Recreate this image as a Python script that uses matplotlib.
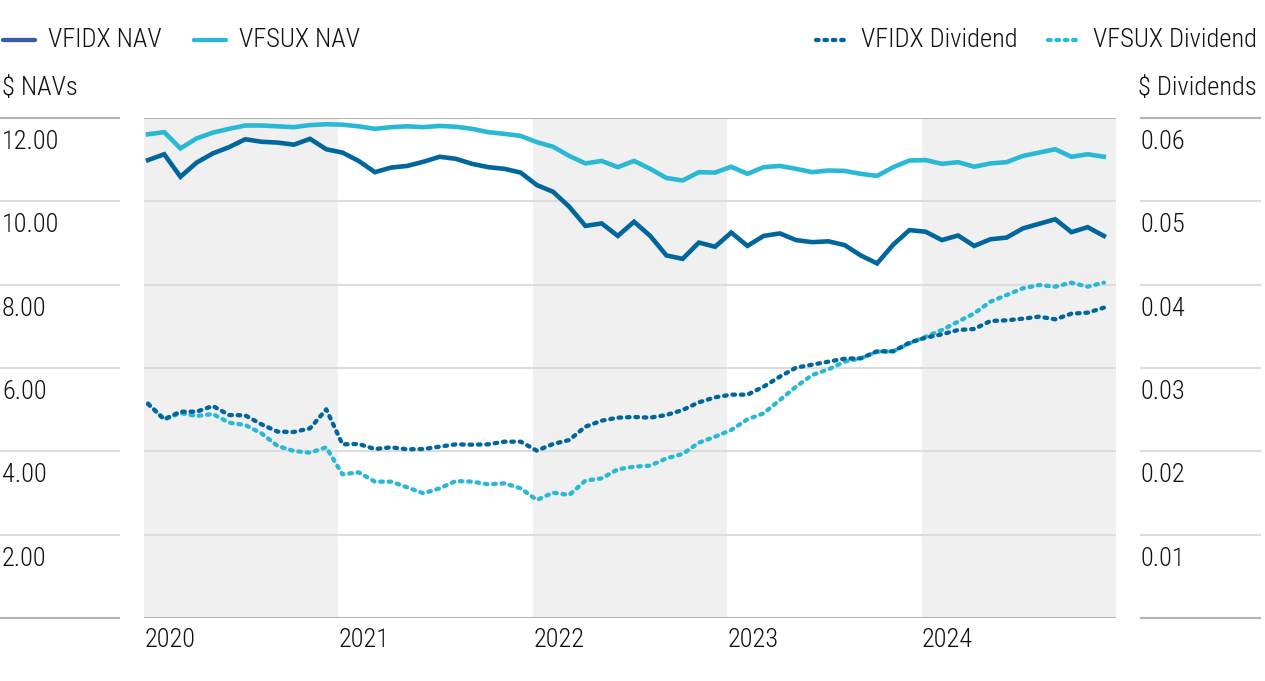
import numpy as np
import matplotlib
matplotlib.use("Agg")
import matplotlib.pyplot as plt
import matplotlib.transforms as mtransforms
from matplotlib.lines import Line2D

plt.rcParams['font.family'] = ['Roboto Condensed', 'DejaVu Sans']
plt.rcParams['font.stretch'] = 'condensed'
plt.rcParams['font.weight'] = 'light'

# monthly values, Jan 2020 - Dec 2024
vfidx_nav = [10.99, 11.13, 10.59, 10.93, 11.15, 11.30, 11.49, 11.43, 11.41, 11.36,
             11.50, 11.25, 11.17, 10.97, 10.70, 10.81, 10.85, 10.95, 11.07, 11.02,
             10.90, 10.82, 10.78, 10.69, 10.39, 10.23, 9.87, 9.41, 9.47, 9.17,
             9.51, 9.17, 8.70, 8.62, 9.01, 8.91, 9.25, 8.93, 9.17, 9.23,
             9.07, 9.02, 9.04, 8.95, 8.70, 8.51, 8.96, 9.31, 9.27, 9.07,
             9.18, 8.93, 9.09, 9.13, 9.35, 9.46, 9.57, 9.26, 9.38, 9.17]
vfsux_nav = [11.61, 11.66, 11.27, 11.51, 11.65, 11.74, 11.82, 11.82, 11.80, 11.78,
             11.83, 11.85, 11.84, 11.80, 11.74, 11.78, 11.80, 11.78, 11.81, 11.79,
             11.74, 11.66, 11.62, 11.57, 11.42, 11.31, 11.09, 10.91, 10.97, 10.82,
             10.97, 10.78, 10.56, 10.50, 10.70, 10.69, 10.83, 10.66, 10.82, 10.85,
             10.78, 10.70, 10.74, 10.73, 10.66, 10.61, 10.82, 10.98, 10.99, 10.90,
             10.94, 10.83, 10.91, 10.94, 11.09, 11.17, 11.25, 11.07, 11.13, 11.07]
vfidx_div = [0.02568, 0.02384, 0.02476, 0.02476, 0.02544, 0.02436, 0.02432, 0.02324, 0.02236, 0.02232,
             0.02276, 0.02504, 0.02084, 0.02088, 0.02028, 0.02048, 0.02024, 0.02028, 0.02056, 0.02084,
             0.02080, 0.02084, 0.02116, 0.02116, 0.02008, 0.02088, 0.02136, 0.02296, 0.02368, 0.02404,
             0.02412, 0.02404, 0.02436, 0.02496, 0.02588, 0.02648, 0.02680, 0.02680, 0.02776, 0.02896,
             0.03004, 0.03040, 0.03076, 0.03112, 0.03116, 0.03200, 0.03200, 0.03304, 0.03364, 0.03404,
             0.03456, 0.03468, 0.03564, 0.03572, 0.03592, 0.03616, 0.03584, 0.03652, 0.03664, 0.03724]
vfsux_div = [0.02576, 0.02384, 0.02460, 0.02424, 0.02448, 0.02344, 0.02316, 0.02216, 0.02064, 0.02004,
             0.01984, 0.02048, 0.01724, 0.01748, 0.01636, 0.01636, 0.01568, 0.01496, 0.01556, 0.01644,
             0.01636, 0.01604, 0.01616, 0.01556, 0.01416, 0.01504, 0.01476, 0.01648, 0.01676, 0.01784,
             0.01816, 0.01828, 0.01916, 0.01968, 0.02104, 0.02176, 0.02256, 0.02384, 0.02456, 0.02616,
             0.02776, 0.02916, 0.02984, 0.03076, 0.03116, 0.03196, 0.03200, 0.03296, 0.03376, 0.03456,
             0.03556, 0.03656, 0.03796, 0.03876, 0.03956, 0.03996, 0.03976, 0.04024, 0.03976, 0.04024]

years = [2020, 2021, 2022, 2023, 2024]
shaded_years = [2020, 2022, 2024]
nav_ticks = [0, 2, 4, 6, 8, 10, 12]
div_ticks = [0.01, 0.02, 0.03, 0.04, 0.05, 0.06]

DARK = '#00669b'
LIGHT = '#29b8d6'
LEGEND_DARK = '#3a5ba8'
GRID = '#dcdcdc'
GRID_EDGE = '#b4b4b4'
TEXT = '#111111'
FS = 19

x = 2020 + (np.arange(len(vfidx_nav)) + 0.25) / 12

W, H = 1265, 681
fig = plt.figure(figsize=(W / 100, H / 100), dpi=100)
fx = lambda px: px / W
fy = lambda py: 1 - py / H
ax = fig.add_axes([fx(144), fy(618), fx(1116) - fx(144), fy(118) - fy(618)])
ax2 = ax.twinx()

for y0 in shaded_years:
    ax.axvspan(y0, y0 + 1, color='#f0f0f0', lw=0, zorder=0)

left_tr = mtransforms.blended_transform_factory(fig.transFigure, ax.transData)
for v in nav_ticks:
    c = GRID_EDGE if v in (0, 12) else GRID
    ax.axhline(v, color=c, lw=1.5, zorder=1)
    fig.add_artist(Line2D([0, fx(119)], [v, v], transform=left_tr, color=c, lw=1.5))
    fig.add_artist(Line2D([fx(1141), fx(1260)], [v, v], transform=left_tr, color=c, lw=1.5))

ax.plot(x, vfsux_nav, color=LIGHT, lw=3.3, solid_joinstyle='miter', zorder=3)
ax.plot(x, vfidx_nav, color=DARK, lw=3.3, solid_joinstyle='miter', zorder=3)

dot = (0, (0.6, 1.35))
ax2.plot(x, vfsux_div, color=LIGHT, lw=3.1, ls=dot, dash_capstyle='round')
ax2.plot(x, vfidx_div, color=DARK, lw=3.1, ls=dot, dash_capstyle='round')

ax.set_xlim(2020, 2025)
ax.set_ylim(0, 12)
ax2.set_ylim(0, 0.06)
for a in (ax, ax2):
    a.set_xticks([])
    a.set_yticks([])
    for s in a.spines.values():
        s.set_visible(False)
ax.patch.set_visible(False)

# tick labels sit just below their gridline
down = mtransforms.ScaledTranslation(0, -24 / 100, fig.dpi_scale_trans)
for v in nav_ticks[1:]:
    fig.text(fx(2), v, f"{v:.2f}", transform=left_tr + down, fontsize=FS,
             color=TEXT, ha='left', va='center')
right_tr = mtransforms.blended_transform_factory(fig.transFigure, ax2.transData)
for v in div_ticks:
    fig.text(fx(1141), v, f"{v:.2f}", transform=right_tr + down, fontsize=FS,
             color=TEXT, ha='left', va='center')

year_tr = mtransforms.blended_transform_factory(ax.transData, fig.transFigure)
for yr in years:
    fig.text(yr + 0.002, fy(640), str(yr), transform=year_tr, fontsize=FS,
             color=TEXT, ha='left', va='center')

fig.text(fx(2), fy(88), "$ NAVs", fontsize=FS, color=TEXT, ha='left', va='center')
fig.text(fx(1257), fy(88), "$ Dividends", fontsize=FS, color=TEXT, ha='right', va='center')

# legend, laid out from measured text widths
renderer = fig.canvas.get_renderer()


def handle(x0, c, ls):
    fig.add_artist(Line2D([fx(x0), fx(x0 + 32)], [fy(40), fy(40)], color=c, lw=3.1, ls=ls,
                          dash_capstyle='round', solid_capstyle='round'))


pos = 3
for c, ls, label in [(LEGEND_DARK, '-', "VFIDX NAV"), (LIGHT, '-', "VFSUX NAV")]:
    handle(pos, c, ls)
    t = fig.text(fx(pos + 45), fy(40), label, fontsize=FS, color=TEXT, ha='left', va='center')
    pos = t.get_window_extent(renderer).x1 + 32

pos = 1257
for c, ls, label in [(LIGHT, dot, "VFSUX Dividend"), (DARK, dot, "VFIDX Dividend")]:
    t = fig.text(fx(pos), fy(40), label, fontsize=FS, color=TEXT, ha='right', va='center')
    x0 = t.get_window_extent(renderer).x0
    handle(x0 - 45, c, ls)
    pos = x0 - 45 - 30

fig.savefig("out.png", dpi=100)
